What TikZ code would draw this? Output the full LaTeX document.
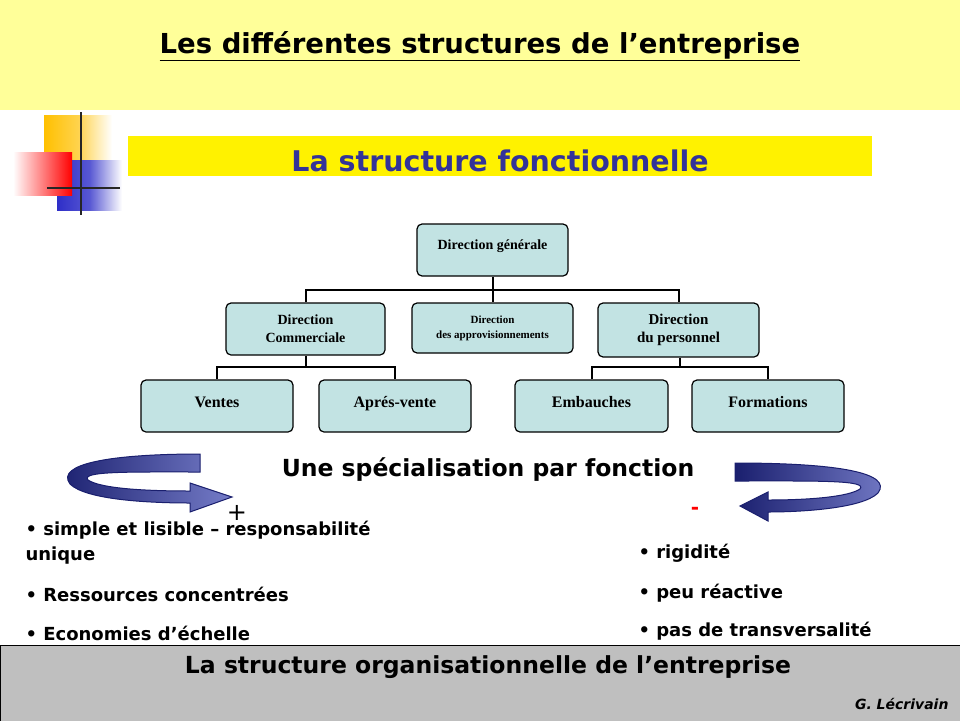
\documentclass[tikz,border=0pt]{standalone}
\usepackage{fontspec}
\setmainfont{DejaVu Sans}
\newfontfamily\serifb{Liberation Serif}
\usetikzlibrary{shadings}
\definecolor{lyel}{HTML}{FFFF99}
\definecolor{ttl}{HTML}{333399}
\definecolor{boxc}{HTML}{C2E3E3}
\definecolor{navy}{HTML}{1A1F6E}
\definecolor{arrb}{HTML}{3A44B0}
\definecolor{orng}{HTML}{FFC000}
\definecolor{bluq}{HTML}{2E2EC8}
\begin{document}
\begin{tikzpicture}[x=1pt,y=-1pt,
  org/.style={draw=black,line width=1.2pt,fill=boxc,rounded corners=5pt,align=center,font=\serifb\bfseries\fontsize{14}{15}\selectfont,inner sep=0pt},
  conn/.style={line width=2pt},
  bul/.style={anchor=west,font=\bfseries\fontsize{18}{20}\selectfont},
  bigarrow/.style={draw=navy,line width=1pt,left color=navy,right color=arrb!70!white}]
\useasboundingbox (0,0) rectangle (960,720);
\fill[lyel] (0,0) rectangle (960,110);
\node (title) at (480,46) {\bfseries\fontsize{27.5}{30}\selectfont\underline{Les différentes structures de l’entreprise}};
\fill[yellow] (128,136) rectangle (872,176);
\node[text=ttl] (sub) at (500,161) {\bfseries\fontsize{28.5}{32}\selectfont La structure fonctionnelle};
% logo
\shade[left color=orng,right color=white,middle color=orng!70] (44,115) rectangle (112,175);
\shade[left color=bluq,right color=white,middle color=bluq!80] (57,160) rectangle (122,210);
\shade[shading angle=45,left color=white,right color=red] (13,152) rectangle (72,195);
\draw[line width=2pt,black!85] (81,112) -- (81,215);
\draw[line width=2pt,black!85] (47,188) -- (120,188);
% org chart
\node[org,minimum width=151pt,minimum height=52pt] (dg) at (492.5,250) {\raisebox{10pt}{Direction générale}};
\node[org,minimum width=159pt,minimum height=52pt] (dc) at (305.5,329) {Direction\\[3pt]Commerciale};
\node[org,minimum width=161pt,minimum height=50pt] (da) at (492.5,328) {\fontsize{11}{12}\selectfont Direction\\\fontsize{11}{12}\selectfont des approvisionnements};
\node[org,minimum width=161pt,minimum height=54pt] (dp) at (678.5,330) {\fontsize{15}{16}\selectfont Direction\\[3pt]\fontsize{15}{16}\selectfont du personnel};
\node[org,minimum width=152pt,minimum height=52pt] (v) at (217,406) {\fontsize{16}{17}\selectfont\raisebox{8pt}{Ventes}};
\node[org,minimum width=152pt,minimum height=52pt] (av) at (395,406) {\fontsize{16}{17}\selectfont\raisebox{8pt}{Aprés-vente}};
\node[org,minimum width=153pt,minimum height=52pt] (em) at (591.5,406) {\fontsize{16}{17}\selectfont\raisebox{8pt}{Embauches}};
\node[org,minimum width=152pt,minimum height=52pt] (fo) at (768,406) {\fontsize{16}{17}\selectfont\raisebox{8pt}{Formations}};
\coordinate (j1) at (492.5,290);
\draw[conn] (dg.south) -- (j1);
\draw[conn] (dc.north) |- (j1) -| (dp.north);
\draw[conn] (j1) -- (da.north);
\coordinate (j2) at (305.5,367);
\draw[conn] (dc.south) -- (j2);
\draw[conn] (v.north) |- (j2) -| (av.north);
\coordinate (j3) at (680,367);
\draw[conn] (dp.south -| j3) -- (j3);
\draw[conn] (em.north) |- (j3) -| (fo.north);
% text
\node (spec) at (488,470) {\bfseries\fontsize{23.5}{26}\selectfont Une spécialisation par fonction};
% arrows
\path[bigarrow] (200,454) .. controls (110,454) and (55,464) .. (70,484)
  .. controls (86,500) and (150,503) .. (190,503) -- (190,512) -- (232,497) -- (190,483) -- (190,491)
  .. controls (140,491) and (100,488) .. (88,480) .. controls (80,471) and (130,472) .. (200,472) -- cycle;
\begin{scope}[shift={(948,9)},xscale=-1]
\path[bigarrow] (213,454) .. controls (110,454) and (55,464) .. (70,484)
  .. controls (86,500) and (150,503) .. (180,503) -- (180,512) -- (208,497) -- (180,483) -- (180,491)
  .. controls (140,491) and (100,488) .. (88,480) .. controls (80,471) and (130,472) .. (213,472) -- cycle;
\end{scope}
\node (plus) at (237,513) {\fontsize{24}{26}\selectfont +};
\node[text=red] (minus) at (695,511) {\bfseries\fontsize{20}{22}\selectfont -};
\node[bul] (l1) at (22,530) {• simple et lisible – responsabilité};
\node[bul] (l1b) at (22,556) {unique};
\node[bul] (l2) at (22,594) {• Ressources concentrées};
\node[bul] (l3) at (22,633) {• Economies d’échelle};
\node[bul] (r1) at (635,553) {• rigidité};
\node[bul] (r2) at (635,593) {• peu réactive};
\node[bul] (r3) at (635,631) {• pas de transversalité};
% bottom
\filldraw[fill=black!25,draw=black,line width=1pt] (0,645) rectangle (960,721);
\node (foot) at (488,667) {\bfseries\fontsize{23.5}{26}\selectfont La structure organisationnelle de l’entreprise};
\node[anchor=east] (auth) at (952,704) {\bfseries\itshape\fontsize{14}{16}\selectfont G. Lécrivain};
\end{tikzpicture}
\end{document}
